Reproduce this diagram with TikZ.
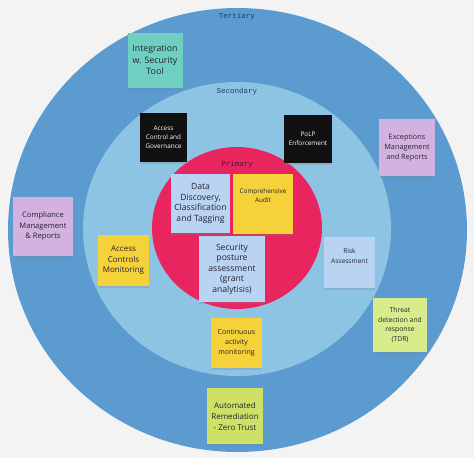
\documentclass[tikz,border=0pt]{standalone}
\usepackage{fontspec}
\setmainfont{Open Sans}
\setmonofont{Liberation Mono}
\usetikzlibrary{shadows}
\definecolor{bgcol}{HTML}{F3F3F4}
\definecolor{tercol}{HTML}{5B9BD0}
\definecolor{seccol}{HTML}{8DC3E3}
\definecolor{pricol}{HTML}{E8255E}
\definecolor{ringtext}{HTML}{1F3F73}
\definecolor{pritext}{HTML}{5A1030}
\definecolor{tealnote}{HTML}{6FD0C2}
\definecolor{bluenote}{HTML}{B9D4F2}
\definecolor{yellownote}{HTML}{F6D23A}
\definecolor{purplenote}{HTML}{D4B2E0}
\definecolor{greennote}{HTML}{D9EC8C}
\definecolor{limenote}{HTML}{CFE067}
\definecolor{blacknote}{HTML}{111111}
\definecolor{notetext}{HTML}{23232F}
\tikzset{
  note/.style={align=center, inner sep=1pt, text=notetext,
    drop shadow={opacity=0.25, shadow xshift=0pt, shadow yshift=-2pt}},
  ringlabel/.style={font=\ttfamily\fontsize{7.5}{8}\selectfont, text=ringtext}
}
\begin{document}
\begin{tikzpicture}[x=1pt,y=-1pt]
\fill[bgcol] (0,0) rectangle (474,458);
\useasboundingbox (0,0) rectangle (474,458);
\coordinate (O1) at (237.5,230);
\coordinate (O2) at (237,229);
\coordinate (O3) at (237,228);
% rings
\fill[tercol] (O1) ellipse [x radius=229.5, y radius=222];
\fill[seccol] (O2) ellipse [x radius=154, y radius=147];
\fill[pricol] (O3) ellipse [x radius=85, y radius=81];
\node[ringlabel] (tert) at (237,17) {Tertiary};
\node[ringlabel] (sec) at (237,92) {Secondary};
\node[ringlabel, text=pritext] (prim) at (237,165) {Primary};
% primary notes
\node[note, fill=bluenote, minimum width=59pt, minimum height=59pt,
  font=\fontsize{8.6}{10.5}\selectfont] (discovery) at (200.5,203.5)
  {Data\\Discovery,\\Classification\\and Tagging};
\node[note, fill=yellownote, minimum width=60pt, minimum height=60pt,
  font=\fontsize{6.4}{8.5}\selectfont] (audit) at (263,204)
  {Comprehensive\\Audit\\[8pt]};
\node[note, fill=bluenote, minimum width=66pt, minimum height=66pt,
  font=\fontsize{8.6}{10.5}\selectfont] (posture) at (232,269)
  {Security\\posture\\assessment\\(grant\\analytisis)};
% secondary notes
\node[note, fill=blacknote, text=white, minimum width=47pt, minimum height=49pt,
  font=\fontsize{6.4}{9}\selectfont] (acg) at (163.5,137.5)
  {Access\\Control and\\Governance};
\node[note, fill=blacknote, text=white, minimum width=48pt, minimum height=48pt,
  font=\fontsize{6.4}{9}\selectfont] (polp) at (308,139)
  {PoLP\\Enforcement};
\node[note, fill=yellownote, minimum width=51pt, minimum height=51pt,
  font=\fontsize{8}{10.5}\selectfont] (acm) at (123.5,260.5)
  {Access\\Controls\\Monitoring};
\node[note, fill=bluenote, minimum width=51pt, minimum height=51pt,
  font=\fontsize{6.6}{9.5}\selectfont] (risk) at (349.5,262.5)
  {Risk\\Assessment\\[4pt]};
\node[note, fill=yellownote, minimum width=51pt, minimum height=50pt,
  font=\fontsize{7}{10}\selectfont] (contin) at (236.5,343)
  {Continuous\\activity\\monitoring};
% tertiary notes
\node[note, fill=tealnote, minimum width=55pt, minimum height=55pt,
  font=\fontsize{8.8}{11.5}\selectfont] (integ) at (155,60)
  {Integration\\w. Security\\Tool};
\node[note, fill=purplenote, minimum width=56pt, minimum height=57pt,
  font=\fontsize{7.3}{10}\selectfont] (except) at (407,147.5)
  {Exceptions\\Management\\and Reports};
\node[note, fill=purplenote, minimum width=60pt, minimum height=59pt,
  font=\fontsize{7.6}{10.5}\selectfont] (compl) at (43,226.5)
  {Compliance\\Management\\\& Reports};
\node[note, fill=greennote, minimum width=54pt, minimum height=54pt,
  font=\fontsize{6.8}{9.8}\selectfont] (threat) at (400,325)
  {Threat\\detection and\\response\\(TDR)};
\node[note, fill=limenote, minimum width=56pt, minimum height=56pt,
  font=\fontsize{8}{11}\selectfont] (autom) at (235,416)
  {Automated\\Remediation\\- Zero Trust};
\end{tikzpicture}
\end{document}
